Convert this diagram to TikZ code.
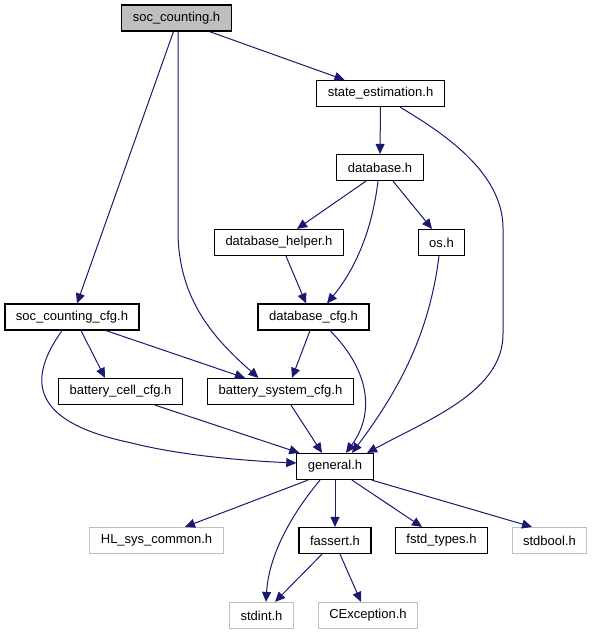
\documentclass[tikz,border=0pt]{standalone}
\usepackage{fontspec}
\setmainfont{Liberation Sans}
\usepackage{tikz}
\usetikzlibrary{arrows.meta}
\definecolor{midnight}{RGB}{25,25,112}
\definecolor{boxgray}{RGB}{191,191,191}

\begin{document}
\begin{tikzpicture}[x=1pt, y=-1pt,
        hfile/.style={draw=black, line width=1.2pt, fill=white, inner xsep=11pt,
            inner ysep=0pt, minimum height=26pt, font=\fontsize{13}{15}\selectfont},
        rootfile/.style={hfile, fill=boxgray},
        extfile/.style={hfile, draw=boxgray},
        dep/.style={draw=midnight, line width=1pt,
            -{Triangle[length=10pt, width=9pt]}, fill=none}]
        \useasboundingbox (0, 0) rectangle (593, 635);

        % Headers, row by row
        \node[rootfile] (sc) at (176.5, 18) {soc\_counting.h};
        \node[hfile] (se) at (380.5, 93.5) {state\_estimation.h};
        \node[hfile] (db) at (380, 167.5) {database.h};
        \node[hfile] (dbh) at (279, 242.5) {database\_helper.h};
        \node[hfile] (os) at (441.5, 242.5) {os.h};
        \node[hfile] (scc) at (72, 317) {soc\_counting\_cfg.h};
        \node[hfile] (dbc) at (313.5, 317) {database\_cfg.h};
        \node[hfile] (bcc) at (120.5, 391.5) {battery\_cell\_cfg.h};
        \node[hfile] (bsc) at (280.5, 391.5) {battery\_system\_cfg.h};
        \node[hfile] (gen) at (335, 466.5) {general.h};
        \node[extfile] (hl) at (156.5, 540.5) {HL\_sys\_common.h};
        \node[hfile] (fa) at (335, 540.5) {fassert.h};
        \node[hfile] (fstd) at (441.5, 540.5) {fstd\_types.h};
        \node[extfile] (sb) at (549.5, 540.5) {stdbool.h};
        \node[extfile] (si) at (261.5, 615.5) {stdint.h};
        \node[extfile] (ce) at (368, 615.5) {CException.h};

        % soc_counting.h includes
        \draw[dep] ([xshift=33pt]sc.south) -- ([xshift=-36pt]se.north);
        \draw[dep] ([xshift=-3pt]sc.south) -- ([xshift=5pt]scc.north);
        \draw[dep] ([xshift=1.5pt]sc.south) -- ++(0, 199)
            .. controls +(0, 70) and +(-43, -38) .. ([xshift=-22pt]bsc.north);

        % state_estimation.h includes
        \draw[dep] (se.south) -- (db.north);
        \draw[dep] ([xshift=19.5pt]se.south) .. controls +(40, 24) and +(0, -57) .. ++(103, 121)
            -- ++(0, 106) .. controls +(0, 57) and +(63, -34) .. ([xshift=32pt]gen.north);

        % database.h includes
        \draw[dep] ([xshift=-14pt]db.south) -- ([xshift=18pt]dbh.north);
        \draw[dep] ([xshift=-2pt]db.south) .. controls +(-6, 50) and +(28, -34) .. ([xshift=13.5pt]dbc.north);
        \draw[dep] ([xshift=13pt]db.south) -- ([xshift=-9.5pt]os.north);
        \draw[dep] ([xshift=7pt]dbh.south) -- ([xshift=-7.5pt]dbc.north);
        \draw[dep] ([xshift=-2.5pt]os.south) .. controls +(-10, 80) and +(45, -60) .. ([xshift=17pt]gen.north);

        % cfg headers
        \draw[dep] ([xshift=9pt]scc.south) -- ([xshift=-15.5pt]bcc.north);
        \draw[dep] ([xshift=34pt]scc.south) -- ([xshift=-35.5pt]bsc.north);
        \draw[dep] ([xshift=-10pt]scc.south) .. controls +(-32, 45) and +(-105, -22) .. ++(68, 112)
            .. controls +(50, 13) and +(-48, -2) .. ([yshift=3.5pt]gen.west);
        \draw[dep] ([xshift=-3.5pt]dbc.south) -- ([xshift=11.5pt]bsc.north);
        \draw[dep] ([xshift=16.5pt]dbc.south) .. controls +(35, 35) and +(32, -44) .. ([xshift=11pt]gen.north);
        \draw[dep] ([xshift=34.5pt]bcc.south) -- ([xshift=3pt]gen.north west);
        \draw[dep] ([xshift=10.5pt]bsc.south) -- ([xshift=-13pt]gen.north);

        % general.h includes
        \draw[dep] ([xshift=-27pt]gen.south) -- ([xshift=28.5pt]hl.north);
        \draw[dep] ([xshift=-15pt]gen.south) .. controls +(-25, 30) and +(3, -50) .. ([xshift=4.5pt]si.north);
        \draw[dep] (gen.south) -- (fa.north);
        \draw[dep] ([xshift=17pt]gen.south) -- ([xshift=-19.5pt]fstd.north);
        \draw[dep] ([xshift=-2pt]gen.south east) -- ([xshift=-17.5pt]sb.north);

        % fassert.h includes
        \draw[dep] ([xshift=-13pt]fa.south) -- ([xshift=13.5pt]si.north);
        \draw[dep] ([xshift=5pt]fa.south) -- ([xshift=-7pt]ce.north);

    \end{tikzpicture}
\end{document}
